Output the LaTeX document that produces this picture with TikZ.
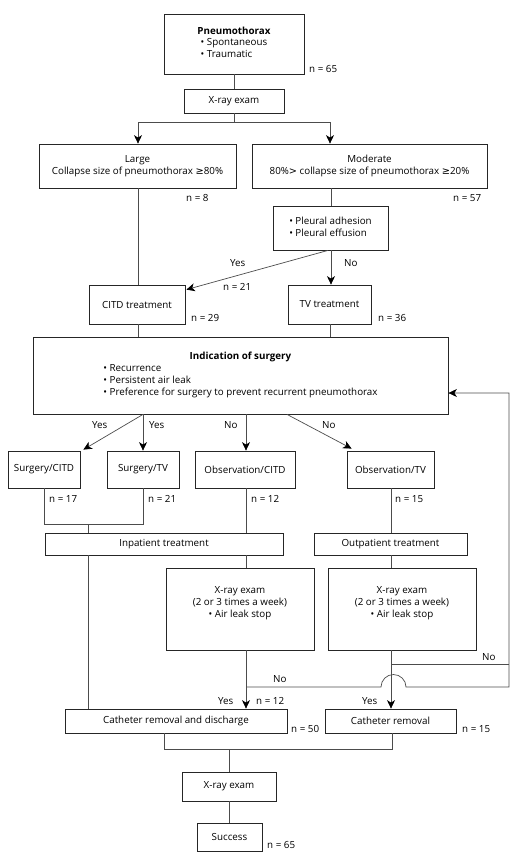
\documentclass[tikz,border=0pt]{standalone}
\usepackage{fontspec}
\setmainfont{Open Sans}
\newfontfamily\symf{DejaVu Sans}
\usetikzlibrary{arrows.meta,calc}
\begin{document}
\begin{tikzpicture}[x=1pt,y=-1pt,
  every node/.style={font=\fontsize{9.8}{12}\selectfont, text=black},
  box/.style={draw=black!85, line width=0.8pt, rectangle, inner sep=0pt, align=center},
  lbl/.style={anchor=west, inner sep=0pt},
  conn/.style={draw=black!70, line width=0.7pt},
  arr/.style={conn, -{Stealth[length=8.5pt,width=8pt,inset=2.5pt,color=black,fill=black]}}]
\useasboundingbox (0,0) rectangle (520,863);
% boxes
\node[box, minimum width=140pt, minimum height=60pt] (pneu) at (234,44)
  {\textbf{Pneumothorax}\\[1pt]\begin{tabular}{@{}l@{}}• Spontaneous\\• Traumatic\end{tabular}};
\node[box, minimum width=100pt, minimum height=24pt] (xray1) at (234,101) {X-ray exam};
\node[box, minimum width=197pt, minimum height=44pt] (large) at (137.5,166)
  {Large\\Collapse size of pneumothorax {\symf ≥}80\%};
\node[box, minimum width=235pt, minimum height=44pt] (moderate) at (369.5,166)
  {Moderate\\80\%{\symf >} collapse size of pneumothorax {\symf ≥}20\%};
\node[box, minimum width=115pt, minimum height=44pt] (pleural) at (330.5,228)
  {\begin{tabular}{@{}l@{}}• Pleural adhesion\\• Pleural effusion\end{tabular}};
\node[box, minimum width=96pt, minimum height=39pt] (citd) at (137,304.5) {CITD treatment};
\node[box, minimum width=83pt, minimum height=39pt] (tv) at (329.5,304.5) {TV treatment};
\node[box, minimum width=415pt, minimum height=77pt] (ind) at (240.5,375.5)
  {\textbf{Indication of surgery}\\[1pt]\begin{tabular}{@{}l@{}}• Recurrence\\• Persistent air leak\\• Preference for surgery to prevent recurrent pneumothorax\end{tabular}};
\node[box, minimum width=72pt, minimum height=37pt] (scitd) at (44,469.5) {Surgery/CITD};
\node[box, minimum width=72pt, minimum height=37pt] (stv) at (143,469.5) {Surgery/TV};
\node[box, minimum width=100pt, minimum height=37pt] (ocitd) at (245,469.5) {Observation/CITD};
\node[box, minimum width=87pt, minimum height=37pt] (otv) at (390.5,469.5) {Observation/TV};
\node[box, minimum width=238pt, minimum height=22pt] (inp) at (164,544) {Inpatient treatment};
\node[box, minimum width=153pt, minimum height=22pt] (outp) at (390.5,544) {Outpatient treatment};
\node[box, minimum width=148pt, minimum height=82pt] (xl) at (240,609)
  {X-ray exam\\(2 or 3 times a week)\\• Air leak stop\\[3pt]};
\node[box, minimum width=148pt, minimum height=82pt] (xr) at (402,609)
  {X-ray exam\\(2 or 3 times a week)\\• Air leak stop\\[3pt]};
\node[box, minimum width=222pt, minimum height=24pt] (cd) at (176,721) {Catheter removal and discharge};
\node[box, minimum width=131pt, minimum height=24pt] (cr) at (390.5,721) {Catheter removal};
\node[box, minimum width=94pt, minimum height=29pt] (xray2) at (229,786.5) {X-ray exam};
\node[box, minimum width=65pt, minimum height=28pt] (succ) at (229.5,837) {Success};
% connectors
\coordinate (sp1) at (234,122);
\draw[conn] (pneu) -- (xray1);
\draw[conn] (xray1.south) -- (sp1);
\draw[arr] (sp1) -| (large.north -| 138,0);
\draw[arr] (sp1) -| (moderate.north -| 330,0);
\draw[conn] (large.south -| 138,0) -- (citd.north -| 138,0);
\draw[conn] (moderate.south -| 331,0) -- (pleural.north -| 331,0);
\draw[arr] (pleural.south -| 328,0) -- ($(citd.north east)+(1,5)$);
\draw[arr] (pleural.south -| 331,0) -- (tv.north -| 331,0);
\draw[conn] (citd.south -| 138,0) -- (ind.north -| 138,0);
\draw[conn] (tv.south -| 330,0) -- (ind.north -| 330,0);
\draw[arr] (ind.south -| 143,0) -- ($(scitd.north east)+(3,-1)$);
\draw[arr] (ind.south -| 143,0) -- (stv.north);
\draw[arr] (ind.south -| 246,0) -- (ocitd.north -| 246,0);
\draw[arr] (ind.south -| 287,0) -- ($(otv.north west)+(5,-2)$);
\coordinate (jn1) at (88,524);
\draw[conn] (scitd.south) -- (scitd.south |- jn1) -- (stv.south |- jn1) -- (stv.south);
\draw[conn] (jn1) -- (inp.north -| jn1);
\draw[conn] (ocitd.south -| 246,0) -- (inp.north -| 246,0);
\draw[conn] (inp.south -| 246,0) -- (xl.north -| 246,0);
\draw[conn] (otv.south -| 391,0) -- (outp.north -| 391,0);
\draw[conn] (outp.south -| 391,0) -- (xr.north -| 391,0);
\draw[conn] (inp.south -| jn1) -- (cd.north -| jn1);
\draw[arr] (xl.south -| 246,0) -- (cd.north -| 246,0);
\draw[arr] (xr.south -| 391,0) -- (cr.north -| 391,0);
\coordinate (fbA) at (391,664);
\coordinate (fbB) at (246,687);
\coordinate (fbR) at (509,687);
\coordinate (fbJ) at (381,687);
\draw[conn] (fbA) -- (fbA -| fbR);
\draw[arr] (fbB) -- (fbJ) arc[start angle=180,end angle=360,radius=12.5] -- (fbR) |- (ind.east |- 0,393);
\coordinate (jn2) at (164,749);
\coordinate (jn3) at (229,749);
\draw[conn] (cd.south -| jn2) -- (jn2) -- (jn2 -| 392,0) -- (cr.south -| 392,0);
\draw[conn] (jn3) -- (xray2.north -| jn3);
\draw[conn] (xray2.south -| jn3) -- (succ.north -| jn3);
% labels
\node[lbl] (l1) at (309,69) {n = 65};
\node[lbl] (l2) at (186,198) {n = 8};
\node[lbl] (l3) at (453,198) {n = 57};
\node[lbl] (l4) at (230,263) {Yes};
\node[lbl] (l5) at (344,263) {No};
\node[lbl] (l6) at (223,287) {n = 21};
\node[lbl] (l7) at (191,318) {n = 29};
\node[lbl] (l8) at (378,318) {n = 36};
\node[lbl] (l9) at (92,425) {Yes};
\node[lbl] (l10) at (149,425) {Yes};
\node[lbl] (l11) at (224,425) {No};
\node[lbl] (l12) at (322,425) {No};
\node[lbl] (l13) at (49,499) {n = 17};
\node[lbl] (l14) at (148,499) {n = 21};
\node[lbl] (l15) at (251,499) {n = 12};
\node[lbl] (l16) at (395,499) {n = 15};
\node[lbl] (l17) at (482,657) {No};
\node[lbl] (l18) at (273,679) {No};
\node[lbl] (l19) at (218,701) {Yes};
\node[lbl] (l20) at (256,701) {n = 12};
\node[lbl] (l21) at (362,701) {Yes};
\node[lbl] (l22) at (291,729) {n = 50};
\node[lbl] (l23) at (462,729) {n = 15};
\node[lbl] (l24) at (267,845) {n = 65};
\end{tikzpicture}
\end{document}
